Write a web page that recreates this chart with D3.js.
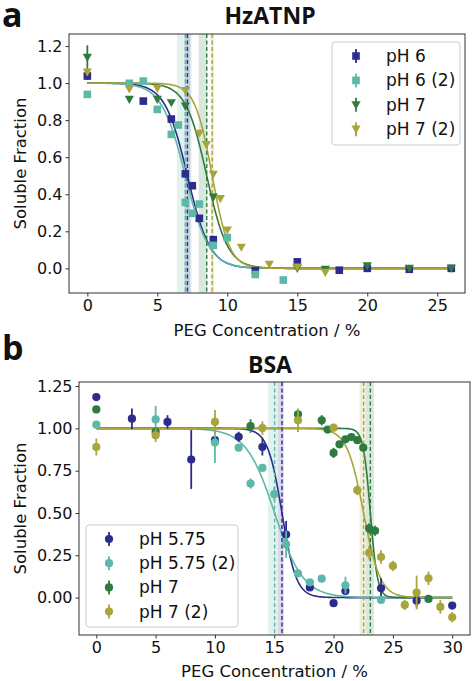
<!DOCTYPE html>
<html>
<head>
<meta charset="utf-8">
<script src="https://cdn.jsdelivr.net/npm/d3@7"></script>
<style>
  body { margin: 0; background: #fff; }
  svg { display: block; }
</style>
</head>
<body>
<svg id="chart" width="474" height="681"></svg>
<script>
// ---- panel a: HzATNP ----
const aNames = ['pH 6', 'pH 6 (2)', 'pH 7', 'pH 7 (2)'];
const aColors = ['#2b2c8c', '#5cb8a8', '#2f7a40', '#a8a53c'];
const aShapes = ['square', 'square', 'tri', 'tri'];

const a0x = [0, 4, 6, 7, 7.5, 8, 9, 12, 15, 18, 20, 23, 26];
const a0y = [1.038, 0.903, 0.806, 0.51, 0.446, 0.27, 0.155, -0.012, 0.035, -0.01, 0.0, -0.005, 0.0];
const a0e = [0.02, 0.01, 0.01, 0.01, 0.01, 0.01, 0.01, 0.01, 0.01, 0.01, 0.01, 0.01, 0.01];
const a1x = [0, 3, 4, 5, 6, 6.5, 7, 7.5, 8, 9, 10, 12, 14];
const a1y = [0.939, 0.999, 1.011, 0.858, 0.723, 0.774, 0.356, 0.297, 0.347, 0.124, 0.166, -0.033, -0.063];
const a1e = [0.01, 0.01, 0.01, 0.01, 0.01, 0.01, 0.01, 0.01, 0.01, 0.01, 0.01, 0.01, 0.01];
const a2x = [0, 3, 5, 6, 7, 9, 15, 17, 20, 23, 26];
const a2y = [1.139, 0.912, 0.912, 0.894, 0.876, 0.384, 0.0, -0.005, 0.014, 0.0, 0.0];
const a2e = [0.065, 0.01, 0.01, 0.01, 0.01, 0.01, 0.01, 0.01, 0.01, 0.01, 0.01];
const a3x = [0, 3, 5, 7, 8, 8.5, 9, 9.5, 10, 11, 13, 15, 17];
const a3y = [1.06, 0.968, 0.972, 0.96, 0.729, 0.668, 0.508, 0.376, 0.207, 0.114, 0.022, 0.007, -0.022];
const a3e = [0.02, 0.01, 0.01, 0.01, 0.01, 0.01, 0.01, 0.01, 0.01, 0.01, 0.01, 0.01, 0.01];

// fitted midpoint, width, and midpoint error band
const aMid = [7.15, 7.0, 8.53, 8.92];
const aWidth = [0.8, 0.85, 0.75, 0.62];
const aBandLo = [6.95, 6.4, 7.95, 8.8];
const aBandHi = [7.35, 7.45, 8.55, 9.05];

const aXTicks = [0, 5, 10, 15, 20, 25];
const aYTicks = [0, 0.2, 0.4, 0.6, 0.8, 1.0, 1.2];

// ---- panel b: BSA ----
const bNames = ['pH 5.75', 'pH 5.75 (2)', 'pH 7', 'pH 7 (2)'];
const bColors = ['#2b2c8c', '#5cb8a8', '#2f7a40', '#a8a53c'];

const b0x = [0, 3, 6, 8, 10, 12, 14, 16, 18, 20, 21, 24, 27, 30];
const b0y = [1.185, 1.057, 1.038, 0.816, 0.93, 0.95, 0.89, 0.373, 0.06, -0.033, 0.039, 0.055, -0.018, -0.047];
const b0e = [0.01, 0.06, 0.04, 0.174, 0.02, 0.03, 0.05, 0.08, 0.02, 0.01, 0.02, 0.06, 0.04, 0.01];
const b1x = [0, 5, 10, 12, 13, 14, 15, 16, 17, 18, 19, 21, 24];
const b1y = [1.022, 1.053, 0.916, 0.886, 0.674, 0.766, 0.611, 0.314, 0.143, 0.09, 0.112, 0.073, -0.014];
const b1e = [0.01, 0.08, 0.12, 0.02, 0.03, 0.02, 0.04, 0.08, 0.02, 0.02, 0.02, 0.05, 0.02];
const b2x = [0, 5, 13, 17, 19, 19.5, 20, 20.5, 21, 21.5, 22, 22.5, 23, 23.5, 28];
const b2y = [1.112, 0.979, 1.014, 1.083, 1.048, 0.993, 0.855, 0.906, 0.935, 0.949, 0.93, 0.886, 0.409, 0.395, -0.008];
const b2e = [0.01, 0.02, 0.04, 0.03, 0.03, 0.02, 0.03, 0.02, 0.02, 0.02, 0.02, 0.02, 0.03, 0.03, 0.02];
const b3x = [0, 5, 10, 14, 17, 20, 22, 23, 24, 25, 26, 27, 28, 29, 30];
const b3y = [0.89, 0.959, 1.038, 1.002, 1.048, 1.004, 0.635, 0.265, 0.24, 0.187, -0.043, 0.03, 0.114, -0.055, -0.116];
const b3e = [0.05, 0.04, 0.07, 0.04, 0.07, 0.02, 0.03, 0.04, 0.04, 0.03, 0.03, 0.1, 0.04, 0.04, 0.03];

const bMid = [15.65, 15.03, 23.1, 22.53];
const bWidth = [0.6, 1.2, 0.3, 0.7];
const bBandLo = [15.3, 14.47, 22.75, 22.2];
const bBandHi = [15.8, 15.3, 23.4, 22.75];

const bXTicks = [0, 5, 10, 15, 20, 25, 30];
const bYTicks = [0, 0.25, 0.5, 0.75, 1.0, 1.25];

const svg = d3.select('#chart');
const tickFont = 'DejaVu Sans, sans-serif';

function drawPanel(p) {
  const g = svg.append('g');
  const x = d3.scaleLinear().domain(p.xDomain).range([p.left, p.right]);
  const y = d3.scaleLinear().domain(p.yDomain).range([p.bottom, p.top]);

  const clipId = 'clip' + p.letter;
  g.append('clipPath').attr('id', clipId)
    .append('rect')
    .attr('x', p.left).attr('y', p.top)
    .attr('width', p.right - p.left).attr('height', p.bottom - p.top);
  const plot = g.append('g').attr('clip-path', `url(#${clipId})`);

  // midpoint bands
  p.series.forEach(s => {
    plot.append('rect')
      .attr('x', x(s.bandLo)).attr('y', p.top)
      .attr('width', x(s.bandHi) - x(s.bandLo))
      .attr('height', p.bottom - p.top)
      .attr('fill', s.color).attr('opacity', 0.18);
  });

  // fitted sigmoid curves
  const line = d3.line().x(d => x(d[0])).y(d => y(d[1]));
  p.series.forEach(s => {
    const pts = d3.range(0, p.fitMax + 0.001, 0.05)
      .map(v => [v, 1 / (1 + Math.exp((v - s.mid) / s.width))]);
    plot.append('path').datum(pts)
      .attr('d', line)
      .attr('fill', 'none').attr('stroke', s.color).attr('stroke-width', 1.6);
  });

  // midpoint dashed lines
  p.series.forEach(s => {
    plot.append('line')
      .attr('x1', x(s.mid)).attr('x2', x(s.mid))
      .attr('y1', p.top).attr('y2', p.bottom)
      .attr('stroke', s.color).attr('stroke-width', 1.4)
      .attr('stroke-dasharray', '4,2.5');
  });

  // error bars + markers
  p.series.forEach(s => {
    const pg = plot.append('g');
    s.xs.forEach((xv, i) => {
      pg.append('line')
        .attr('x1', x(xv)).attr('x2', x(xv))
        .attr('y1', y(s.ys[i] - s.es[i])).attr('y2', y(s.ys[i] + s.es[i]))
        .attr('stroke', s.color).attr('stroke-width', 1.8);
      drawMarker(pg, s.shape, x(xv), y(s.ys[i]), s.color);
    });
  });

  // frame
  g.append('rect')
    .attr('x', p.left).attr('y', p.top)
    .attr('width', p.right - p.left).attr('height', p.bottom - p.top)
    .attr('fill', 'none').attr('stroke', '#333').attr('stroke-width', 1);

  // axes
  const xAxis = g.append('g')
    .attr('transform', `translate(0,${p.bottom})`)
    .call(d3.axisBottom(x).tickValues(p.xTicks).tickSize(3.5).tickPadding(3).tickFormat(d3.format('d')));
  const yAxis = g.append('g')
    .attr('transform', `translate(${p.left},0)`)
    .call(d3.axisLeft(y).tickValues(p.yTicks).tickSize(3.5).tickPadding(3).tickFormat(d3.format(p.yFormat)));
  [xAxis, yAxis].forEach(a => {
    a.select('.domain').remove();
    a.selectAll('.tick line').attr('stroke', '#333');
    a.selectAll('text').attr('font-family', tickFont).attr('font-size', 16).attr('fill', '#111');
  });

  // axis labels
  g.append('text')
    .attr('x', (p.left + p.right) / 2).attr('y', p.xLabelY)
    .attr('text-anchor', 'middle')
    .attr('font-family', tickFont).attr('font-size', 16.5).attr('fill', '#111')
    .text('PEG Concentration / %');
  g.append('text')
    .attr('transform', `translate(26,${(p.top + p.bottom) / 2}) rotate(-90)`)
    .attr('text-anchor', 'middle')
    .attr('font-family', tickFont).attr('font-size', 16.5).attr('fill', '#111')
    .text('Soluble Fraction');

  // title and panel letter
  g.append('text')
    .attr('x', p.titleX).attr('y', p.titleY)
    .attr('text-anchor', 'middle')
    .attr('font-family', 'Open Sans, sans-serif').attr('font-weight', 700)
    .attr('font-size', 23).attr('fill', '#111')
    .text(p.title);
  g.append('text')
    .attr('x', 2).attr('y', p.letterY)
    .attr('font-family', 'Open Sans, sans-serif').attr('font-weight', 700)
    .attr('font-size', 34).attr('fill', '#111')
    .text(p.letter);

  // legend
  const lg = g.append('g');
  lg.append('rect')
    .attr('x', p.legend.x).attr('y', p.legend.y)
    .attr('width', p.legend.w).attr('height', p.legend.h)
    .attr('rx', 3)
    .attr('fill', 'rgba(255,255,255,0.85)').attr('stroke', '#ccc').attr('stroke-width', 1);
  p.series.forEach((s, i) => {
    const cy = p.legend.y + p.legend.first + i * p.legend.step;
    const mx = p.legend.x + p.legend.markerDx;
    lg.append('line')
      .attr('x1', mx).attr('x2', mx).attr('y1', cy - 7).attr('y2', cy + 7)
      .attr('stroke', s.color).attr('stroke-width', 1.8);
    drawMarker(lg, s.shape, mx, cy, s.color);
    lg.append('text')
      .attr('x', p.legend.x + p.legend.textDx).attr('y', cy + 6)
      .attr('font-family', tickFont).attr('font-size', 17).attr('fill', '#111')
      .text(s.name);
  });
}

function drawMarker(sel, shape, cx, cy, color) {
  if (shape === 'square') {
    sel.append('rect')
      .attr('x', cx - 3.8).attr('y', cy - 3.8).attr('width', 7.6).attr('height', 7.6)
      .attr('fill', color);
  } else if (shape === 'tri') {
    sel.append('path')
      .attr('d', `M${cx - 4.6},${cy - 3.6}L${cx + 4.6},${cy - 3.6}L${cx},${cy + 4.6}Z`)
      .attr('fill', color);
  } else {
    sel.append('circle').attr('cx', cx).attr('cy', cy).attr('r', 4.1).attr('fill', color);
  }
}

function makeSeries(names, colors, shapes, xs, ys, es, mid, width, lo, hi) {
  return names.map((n, i) => ({
    name: n, color: colors[i], shape: shapes[i],
    xs: xs[i], ys: ys[i], es: es[i],
    mid: mid[i], width: width[i], bandLo: lo[i], bandHi: hi[i]
  }));
}

drawPanel({
  letter: 'a', letterY: 27, title: 'HzATNP', titleX: 270, titleY: 24,
  left: 69, right: 465, top: 34, bottom: 293,
  xDomain: [-1.31, 26.98], yDomain: [-0.133, 1.265], fitMax: 26,
  xTicks: aXTicks, yTicks: aYTicks, yFormat: '.1f', xLabelY: 336,
  legend: { x: 332, y: 42, w: 128, h: 103, first: 14, step: 24.4, markerDx: 24, textDx: 54 },
  series: makeSeries(aNames, aColors, aShapes,
    [a0x, a1x, a2x, a3x], [a0y, a1y, a2y, a3y], [a0e, a1e, a2e, a3e],
    aMid, aWidth, aBandLo, aBandHi)
});

drawPanel({
  letter: 'b', letterY: 360, title: 'BSA', titleX: 270, titleY: 373,
  left: 79, right: 470, top: 382, bottom: 635,
  xDomain: [-1.46, 31.5], yDomain: [-0.221, 1.274], fitMax: 30,
  xTicks: bXTicks, yTicks: bYTicks, yFormat: '.2f', xLabelY: 677,
  legend: { x: 86, y: 525, w: 152, h: 102, first: 14, step: 24.2, markerDx: 23, textDx: 53 },
  series: makeSeries(bNames, bColors, ['circle', 'circle', 'circle', 'circle'],
    [b0x, b1x, b2x, b3x], [b0y, b1y, b2y, b3y], [b0e, b1e, b2e, b3e],
    bMid, bWidth, bBandLo, bBandHi)
});
</script>
</body>
</html>
